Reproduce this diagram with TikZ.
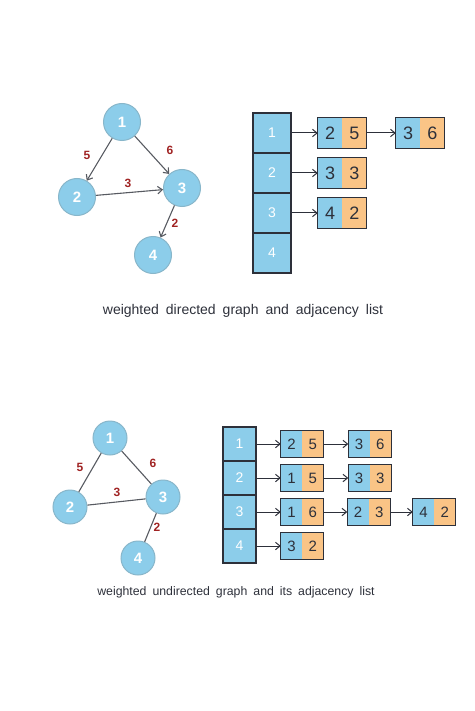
\documentclass[tikz,border=0pt]{standalone}
\usepackage{fontspec}
\setmainfont{Liberation Sans}
\usetikzlibrary{arrows.meta,positioning,calc}
\definecolor{vblue}{RGB}{140,205,234}
\definecolor{vorange}{RGB}{250,196,134}
\definecolor{wred}{RGB}{160,35,35}
\definecolor{ink}{RGB}{45,48,58}
\tikzset{vert/.style={circle,draw=vblue!70!gray,fill=vblue,line width=1pt,minimum size=37pt,inner sep=0pt,text=white,font=\fontsize{15}{15}\selectfont\bfseries},
  wt/.style={text=wred,font=\fontsize{12}{12}\selectfont\bfseries},
  cell/.style={draw=ink,fill=vblue,line width=1.2pt,minimum width=38pt,minimum height=40pt,inner sep=0pt,text=white,font=\fontsize{14}{14}\selectfont},
  key/.style={fill=vblue,minimum width=24pt,minimum height=31pt,inner sep=0pt,text=ink,font=\fontsize{18}{18}\selectfont},
  val/.style={key,fill=vorange},
  frame/.style={draw=ink,line width=1.1pt},
  link/.style={-{Straight Barb[length=1.6mm,width=2.6mm]},line width=1pt,ink},
  arc/.style={line width=1.1pt,ink!80},
  caption/.style={text=ink,font=\fontsize{14}{15}\selectfont,execute at begin node={\spaceskip=7pt\relax}}}

\begin{document}
\begin{tikzpicture}[x=1pt,y=-1pt]
\useasboundingbox (0,0) rectangle (474,711);
% directed graph
\foreach \i/\x/\y in {1/122/122,2/77/197,3/182/188,4/153/255}
  \node[vert] (d\i) at (\x,\y) {\i};
\draw[link,arc] (d1) -- (d2);
\draw[link,arc] (d1) -- (d3);
\draw[link,arc] (d2) -- (d3);
\draw[link,arc] (d3) -- (d4);
\foreach \w/\x/\y in {5/87/155,6/170/150,3/128/183,2/175/223}
  \node[wt] at (\x,\y) {\w};
% adjacency list, directed
\foreach \i in {1,...,4} \node[cell] (a\i) at (272,93+40*\i) {\i};
\foreach \r/\c/\x/\k/\v in {1/1/330/2/5,1/2/408/3/6,2/1/330/3/3,3/1/330/4/2}{
  \node[key] (a\r-k\c) at (\x,93+40*\r) {\k};
  \node[val,right=0pt of a\r-k\c] (a\r-v\c) {\v};
  \draw[frame] (a\r-k\c.north west) rectangle (a\r-v\c.south east);
}
\foreach \r in {1,2,3} \draw[link] (a\r) -- (a\r-k1);
\draw[link] (a1-v1) -- (a1-k2);
\node[caption] (cap1) at (243,311) {weighted directed graph and adjacency list};

% undirected graph
\tikzset{vert/.append style={minimum size=34pt},
  cell/.append style={minimum width=33pt,minimum height=34pt},
  key/.append style={minimum width=21pt,minimum height=26pt,font=\fontsize{15}{15}\selectfont}}
\foreach \i/\x/\y in {1/110/438,2/70/507,3/163/497,4/138/558}
  \node[vert] (u\i) at (\x,\y) {\i};
\draw[arc] (u1) -- (u2);
\draw[arc] (u1) -- (u3);
\draw[arc] (u2) -- (u3);
\draw[arc] (u3) -- (u4);
\foreach \w/\x/\y in {5/80/467,6/153/463,3/117/492,2/157/527}
  \node[wt] at (\x,\y) {\w};
% adjacency list, undirected
\foreach \i in {1,...,4} \node[cell] (b\i) at (239.5,410+34*\i) {\i};
\foreach \r/\c/\x/\k/\v in {1/1/291.5/2/5,1/2/359/3/6,2/1/291.5/1/5,2/2/359/3/3,
  3/1/291.5/1/6,3/2/358/2/3,3/3/423.5/4/2,4/1/291.5/3/2}{
  \node[key] (b\r-k\c) at (\x,410+34*\r) {\k};
  \node[val,right=0pt of b\r-k\c] (b\r-v\c) {\v};
  \draw[frame] (b\r-k\c.north west) rectangle (b\r-v\c.south east);
}
\foreach \r in {1,...,4} \draw[link] (b\r) -- (b\r-k1);
\draw[link] (b1-v1) -- (b1-k2);
\draw[link] (b2-v1) -- (b2-k2);
\draw[link] (b3-v1) -- (b3-k2);
\draw[link] (b3-v2) -- (b3-k3);
\node[caption,font=\fontsize{12.3}{13}\selectfont,execute at begin node={\spaceskip=6pt\relax}] (cap2) at (236,592) {weighted undirected graph and its adjacency list};
\end{tikzpicture}
\end{document}
